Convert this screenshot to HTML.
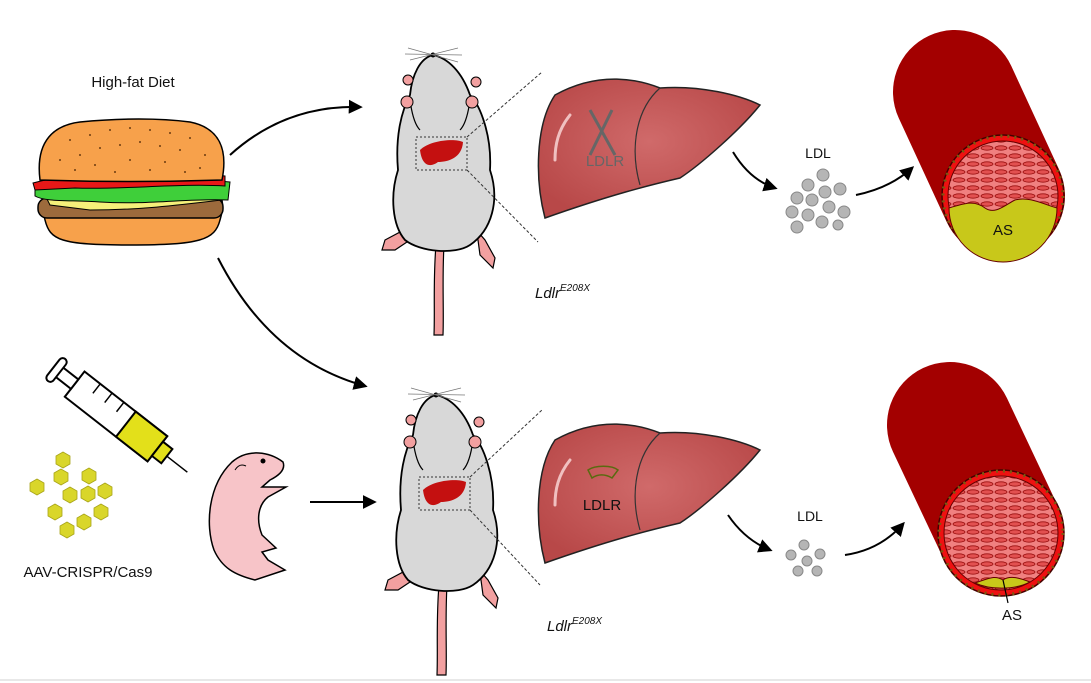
<!DOCTYPE html>
<html><head><meta charset="utf-8"><style>
html,body{margin:0;padding:0;background:#fff;}
svg{display:block;font-family:"Liberation Sans",sans-serif;}
</style></head><body>
<svg width="1091" height="683" viewBox="0 0 1091 683" xmlns="http://www.w3.org/2000/svg">
<defs>
<marker id="ah" viewBox="0 0 10 10" refX="8" refY="5" markerWidth="7" markerHeight="7" orient="auto"><path d="M0,0 L10,5 L0,10 z" fill="#000"/></marker>
<radialGradient id="lg" cx="0.5" cy="0.45" r="0.6"><stop offset="0" stop-color="#d06a6a"/><stop offset="1" stop-color="#b84848"/></radialGradient>
<pattern id="rbc" width="14" height="8" patternUnits="userSpaceOnUse"><rect width="14" height="8" fill="#f08080"/><ellipse cx="7" cy="4" rx="6" ry="2.2" fill="#e25050" stroke="#9a1010" stroke-width="0.8"/></pattern>
<g id="mouse">
  <path d="M436,245 L444,245 C442,280 444,310 443,335 L434,335 C435,310 433,280 436,245 z" fill="#f2a0a0" stroke="#000" stroke-width="1.2"/>
  <path d="M405,225 L400,232 L385,240 L382,250 L395,250 L410,240 z" fill="#f2a0a0" stroke="#000" stroke-width="1.2"/>
  <path d="M472,225 L478,240 L480,255 L493,268 L495,258 L485,240 z" fill="#f2a0a0" stroke="#000" stroke-width="1.2"/>
  <path d="M433,55 C420,58 412,75 410,95 C402,110 395,135 398,170 C390,195 392,225 405,240 C420,252 455,255 470,245 C492,230 500,200 490,170 C492,135 480,105 470,95 C462,72 448,58 433,55 z" fill="#d8d8d8" stroke="#000" stroke-width="1.8"/>
  <path d="M410,100 C412,115 415,125 420,130 M470,100 C468,115 465,125 460,130" fill="none" stroke="#000" stroke-width="1.2"/>
  <circle cx="407" cy="102" r="6" fill="#f2a0a0" stroke="#000"/>
  <circle cx="472" cy="102" r="6" fill="#f2a0a0" stroke="#000"/>
  <circle cx="408" cy="80" r="5" fill="#f2a0a0" stroke="#000"/>
  <circle cx="476" cy="82" r="5" fill="#f2a0a0" stroke="#000"/>
  <circle cx="433" cy="55" r="2.5" fill="#000"/>
  <path d="M408,48 L458,62 M410,60 L458,48 M405,54 L462,55" stroke="#777" stroke-width="0.8" fill="none"/>
  <rect x="416" y="137" width="51" height="33" fill="none" stroke="#333" stroke-dasharray="2,2"/>
  <path d="M420,150 C430,140 455,138 463,142 C462,158 448,162 438,162 C430,168 422,166 420,150 z" fill="#c41010"/>
</g>
<g id="liver">
  <path d="M555,95 C600,70 640,80 660,88 C700,85 740,95 760,105 C740,130 700,165 680,178 C650,185 610,195 545,218 C535,180 535,125 555,95 z" fill="url(#lg)" stroke="#222" stroke-width="1.5"/>
  <path d="M660,88 C635,110 630,150 640,185" fill="none" stroke="#333" stroke-width="1.2"/>
  <path d="M570,115 C558,130 555,145 555,160" fill="none" stroke="#f0c0c0" stroke-width="3" stroke-linecap="round"/>
</g>
</defs>

<!-- burger -->
<text x="133" y="87" font-size="15" text-anchor="middle" fill="#111">High-fat Diet</text>
<path d="M45,220 C40,200 45,188 60,186 L200,186 C222,188 226,200 220,220 C215,240 200,245 130,245 C60,245 50,240 45,220 z" fill="#f7a14b" stroke="#000" stroke-width="1.5"/>
<rect x="38" y="198" width="185" height="20" rx="9" fill="#9c6a3c" stroke="#000" stroke-width="1.5"/>
<path d="M45,195 L220,188 L222,200 C180,205 140,210 90,210 L50,205 z" fill="#f5f07a" stroke="#000"/>
<path d="M35,185 C80,175 160,175 230,182 L228,200 C190,198 150,205 100,202 C70,200 45,202 35,196 z" fill="#3fcf3a" stroke="#000"/>
<path d="M33,183 C80,170 170,170 225,176 L225,186 C180,183 120,190 75,188 L35,190 z" fill="#e81818" stroke="#000"/>
<path d="M40,180 C35,140 55,125 80,122 C120,118 160,118 190,122 C220,128 228,150 222,180 C160,182 100,182 40,180 z" fill="#f7a14b" stroke="#000" stroke-width="1.5"/>
<g fill="#6a3a10">
<circle cx="70" cy="140" r="1"/><circle cx="90" cy="135" r="1"/><circle cx="110" cy="130" r="1"/><circle cx="130" cy="128" r="1"/><circle cx="150" cy="130" r="1"/><circle cx="170" cy="133" r="1"/><circle cx="190" cy="138" r="1"/><circle cx="80" cy="155" r="1"/><circle cx="100" cy="148" r="1"/><circle cx="120" cy="145" r="1"/><circle cx="140" cy="142" r="1"/><circle cx="160" cy="146" r="1"/><circle cx="180" cy="150" r="1"/><circle cx="205" cy="155" r="1"/><circle cx="60" cy="160" r="1"/><circle cx="95" cy="165" r="1"/><circle cx="130" cy="160" r="1"/><circle cx="165" cy="162" r="1"/><circle cx="200" cy="168" r="1"/><circle cx="75" cy="170" r="1"/><circle cx="115" cy="172" r="1"/><circle cx="150" cy="170" r="1"/><circle cx="185" cy="172" r="1"/>
</g>

<!-- arrows left -->
<path d="M230,155 Q285,105 360,107" fill="none" stroke="#000" stroke-width="2" marker-end="url(#ah)"/>
<path d="M218,258 Q270,360 365,386" fill="none" stroke="#000" stroke-width="2" marker-end="url(#ah)"/>
<path d="M310,502 L374,502" fill="none" stroke="#000" stroke-width="2" marker-end="url(#ah)"/>

<!-- syringe -->
<g transform="translate(118,418) rotate(38)">
  <rect x="-55" y="-16" width="105" height="32" fill="#fff" stroke="#000" stroke-width="2"/>
  <rect x="10" y="-16" width="40" height="32" fill="#e3e01a" stroke="#000" stroke-width="2"/>
  <rect x="50" y="-9" width="12" height="18" fill="#e3e01a" stroke="#000" stroke-width="2"/>
  <line x1="62" y1="0" x2="88" y2="0" stroke="#000" stroke-width="1.5"/>
  <rect x="-75" y="-6" width="20" height="12" fill="#fff" stroke="#000" stroke-width="2"/>
  <rect x="-82" y="-14" width="8" height="28" rx="4" fill="#fff" stroke="#000" stroke-width="2"/>
  <path d="M-35,-16 v12 M-20,-16 v12 M-5,-16 v12" stroke="#000" stroke-width="1.5"/>
</g>
<!-- viruses -->
<g fill="#d9d62a" stroke="#a8a418" stroke-width="0.8">
<polygon id="hx" points="63,452 70,456 70,464 63,468 56,464 56,456"/>
<use href="#hx" x="-2" y="17"/><use href="#hx" x="26" y="16"/><use href="#hx" x="-26" y="27"/><use href="#hx" x="7" y="35"/><use href="#hx" x="25" y="34"/><use href="#hx" x="42" y="31"/><use href="#hx" x="-8" y="52"/><use href="#hx" x="38" y="52"/><use href="#hx" x="21" y="62"/><use href="#hx" x="4" y="70"/>
</g>
<text x="88" y="577" font-size="15" text-anchor="middle" fill="#111">AAV-CRISPR/Cas9</text>
<!-- baby mouse -->
<path d="M232,462 C248,448 270,452 283,462 C286,470 278,476 270,480 L262,487 L286,487 L268,497 C258,505 256,520 262,535 L276,548 L262,552 L268,560 L285,570 L255,580 C235,575 222,568 214,550 C205,525 208,485 232,462 z" fill="#f7c4c8" stroke="#000" stroke-width="1.5"/>
<circle cx="263" cy="461" r="2.5" fill="#000"/>
<path d="M235,470 C238,465 242,464 246,466" fill="none" stroke="#000" stroke-width="1"/>

<!-- mice -->
<use href="#mouse"/>
<use href="#mouse" x="3" y="340"/>
<line x1="467" y1="137" x2="542" y2="72" stroke="#333" stroke-dasharray="3,2"/>
<line x1="467" y1="170" x2="538" y2="242" stroke="#333" stroke-dasharray="3,2"/>
<line x1="470" y1="477" x2="542" y2="410" stroke="#333" stroke-dasharray="3,2"/>
<line x1="470" y1="510" x2="540" y2="585" stroke="#333" stroke-dasharray="3,2"/>

<!-- livers -->
<use href="#liver"/>
<use href="#liver" y="345"/>
<g stroke="#666" stroke-width="3"><line x1="590" y1="110" x2="615" y2="155"/><line x1="612" y1="110" x2="590" y2="155"/></g>
<text x="605" y="166" font-size="15" text-anchor="middle" fill="#666">LDLR</text>
<path d="M588,470 C595,465 612,465 618,470 L612,478 C605,474 598,474 592,478 z" fill="none" stroke="#5a6a10" stroke-width="1.5"/>
<text x="602" y="510" font-size="15" text-anchor="middle" fill="#111">LDLR</text>
<text x="535" y="298" font-size="15" font-style="italic" fill="#111">Ldlr<tspan font-size="10" dy="-7">E208X</tspan></text>
<text x="547" y="631" font-size="15" font-style="italic" fill="#111">Ldlr<tspan font-size="10" dy="-7">E208X</tspan></text>

<!-- LDL -->
<path d="M733,152 Q750,180 775,188" fill="none" stroke="#000" stroke-width="2" marker-end="url(#ah)"/>
<path d="M856,195 Q890,188 912,168" fill="none" stroke="#000" stroke-width="2" marker-end="url(#ah)"/>
<text x="818" y="158" font-size="14" text-anchor="middle" fill="#111">LDL</text>
<g fill="#b5b5b5" stroke="#888">
<circle cx="823" cy="175" r="6"/><circle cx="808" cy="185" r="6"/><circle cx="840" cy="189" r="6"/><circle cx="825" cy="192" r="6"/><circle cx="797" cy="198" r="6"/><circle cx="812" cy="200" r="6"/><circle cx="829" cy="207" r="6"/><circle cx="844" cy="212" r="6"/><circle cx="792" cy="212" r="6"/><circle cx="808" cy="215" r="6"/><circle cx="822" cy="222" r="6"/><circle cx="797" cy="227" r="6"/><circle cx="838" cy="225" r="5"/>
</g>
<path d="M728,515 Q745,540 770,550" fill="none" stroke="#000" stroke-width="2" marker-end="url(#ah)"/>
<path d="M845,555 Q880,550 903,524" fill="none" stroke="#000" stroke-width="2" marker-end="url(#ah)"/>
<text x="810" y="521" font-size="14" text-anchor="middle" fill="#111">LDL</text>
<g fill="#b5b5b5" stroke="#888">
<circle cx="804" cy="545" r="5"/><circle cx="791" cy="555" r="5"/><circle cx="820" cy="554" r="5"/><circle cx="807" cy="561" r="5"/><circle cx="798" cy="571" r="5"/><circle cx="817" cy="571" r="5"/>
</g>

<!-- vessels -->
<line x1="955" y1="92" x2="1003" y2="196" stroke="#a30000" stroke-width="124" stroke-linecap="round"/>
<circle cx="1003" cy="196" r="61" fill="#e11" stroke="#400" stroke-width="1.5"/>
<circle cx="1003" cy="196" r="60" fill="none" stroke="#7a5a10" stroke-width="3" stroke-dasharray="2,5"/>
<circle cx="1003" cy="196" r="55" fill="url(#rbc)" stroke="#600" stroke-width="1"/>
<path d="M949,208 C965,203 975,200 985,208 C995,215 1005,205 1015,200 C1030,196 1045,205 1057,208 A54,54 0 0 1 949,208 z" fill="#c8c81a" stroke="#600"/>
<text x="1003" y="235" font-size="15" text-anchor="middle" fill="#111">AS</text>

<line x1="950" y1="425" x2="1001" y2="533" stroke="#a30000" stroke-width="126" stroke-linecap="round"/>
<circle cx="1001" cy="533" r="63" fill="#e11" stroke="#400" stroke-width="1.5"/>
<circle cx="1001" cy="533" r="62" fill="none" stroke="#7a5a10" stroke-width="3" stroke-dasharray="2,5"/>
<circle cx="1001" cy="533" r="57" fill="url(#rbc)" stroke="#600" stroke-width="1"/>
<path d="M975,583 C990,578 995,575 1003,580 C1010,575 1020,578 1030,582 C1015,590 990,590 975,583 z" fill="#c8c81a" stroke="#600"/>
<line x1="1003" y1="580" x2="1008" y2="603" stroke="#000" stroke-width="1.2"/>
<text x="1012" y="620" font-size="15" text-anchor="middle" fill="#111">AS</text>

<line x1="0" y1="680" x2="1091" y2="680" stroke="#e8e8e8" stroke-width="2"/>
</svg>
</body></html>
